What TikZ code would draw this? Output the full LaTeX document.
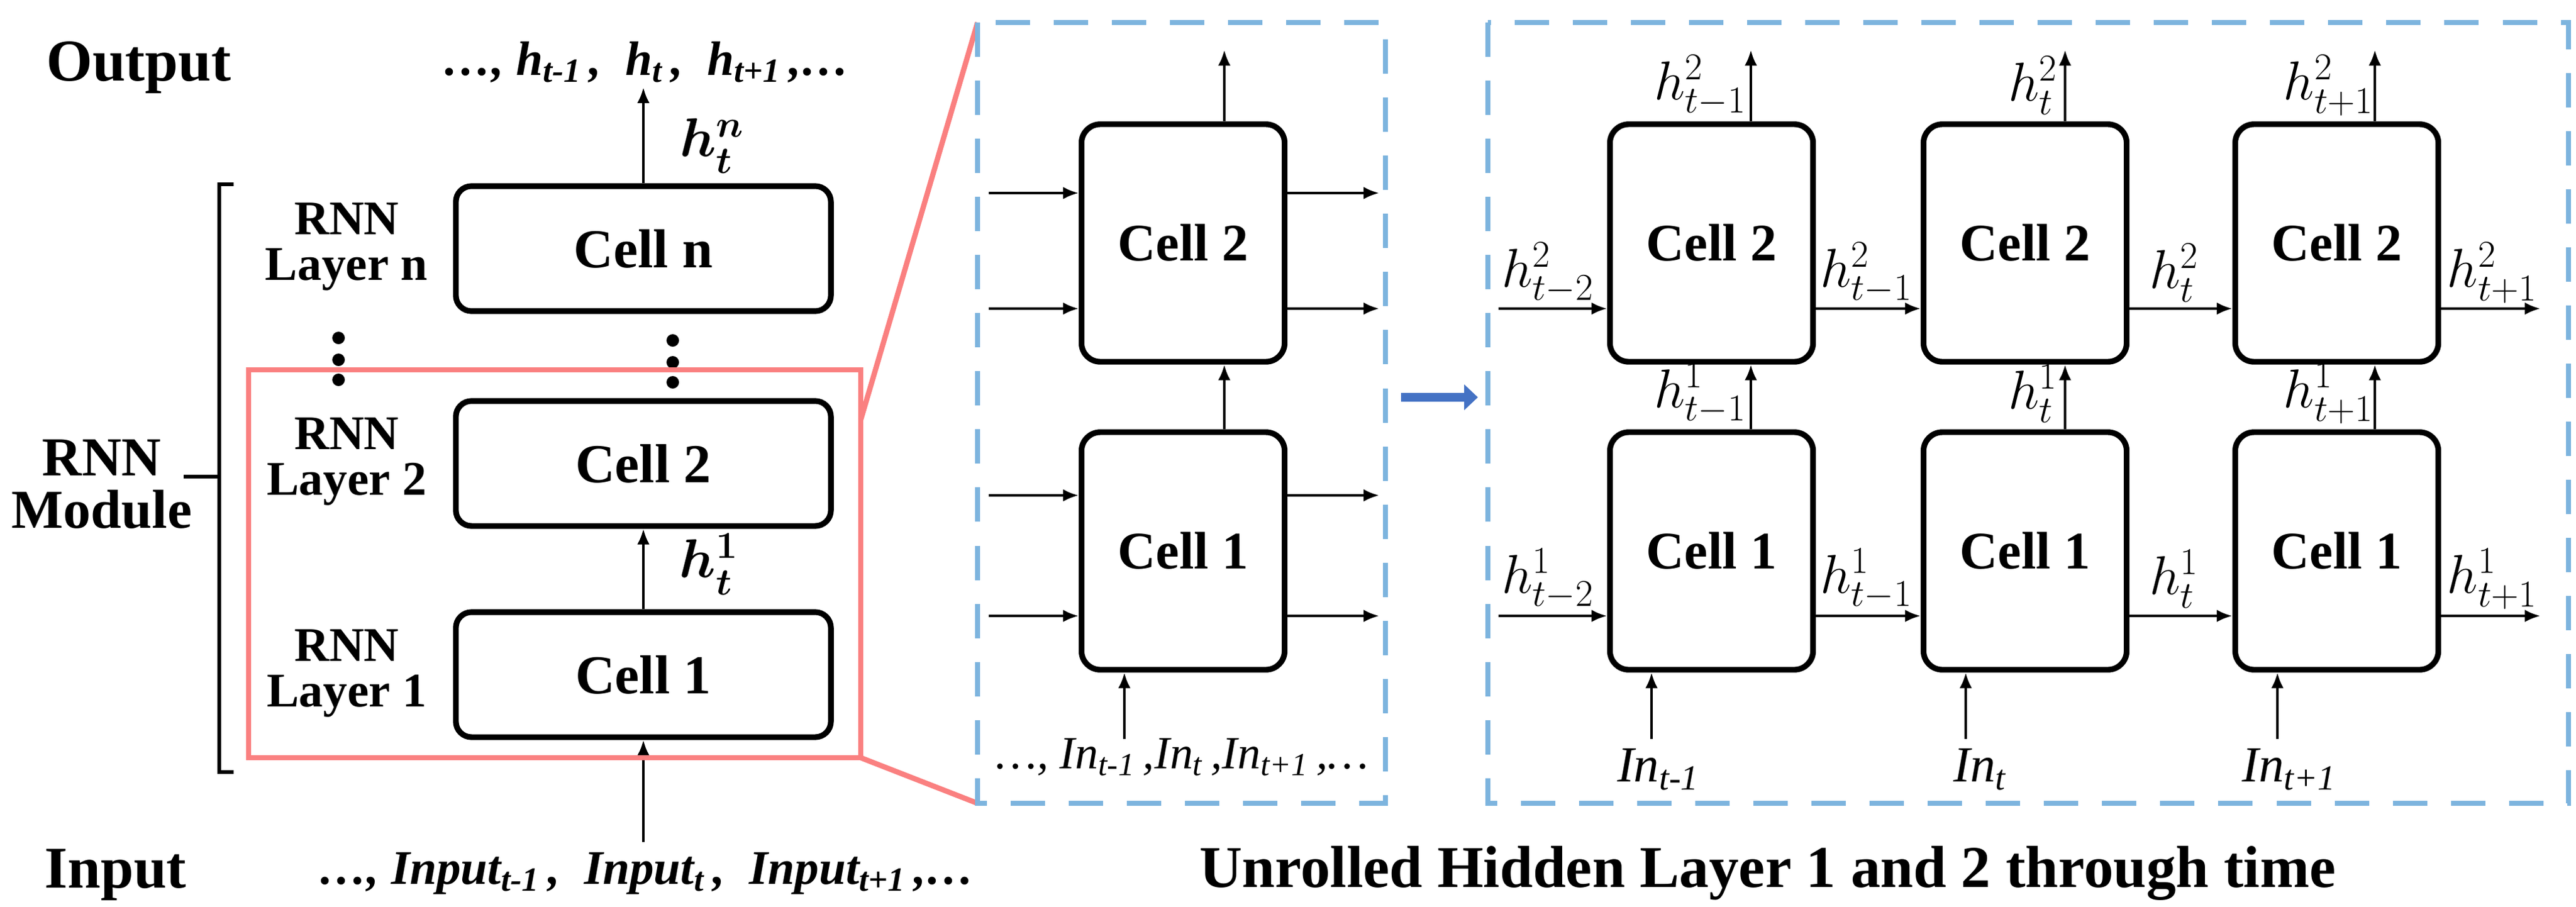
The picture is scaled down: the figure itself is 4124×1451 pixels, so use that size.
\documentclass[tikz,border=0pt]{standalone}
\usepackage{amsmath}
\usepackage{fontspec}
\setmainfont{Liberation Serif}
\usetikzlibrary{arrows.meta}
\definecolor{pinkred}{RGB}{250,128,128}
\definecolor{dashblue}{RGB}{125,180,222}
\definecolor{arrblue}{RGB}{68,114,196}
\begin{document}
\begin{tikzpicture}[x=0.01cm,y=-0.01cm,
    bigcell/.style={draw, line width=2.6pt, rounded corners=0.25cm, minimum width=6cm, minimum height=2cm, font=\fontsize{25}{27}\selectfont\bfseries},
    ucell/.style={draw, line width=2.6pt, rounded corners=0.3cm, minimum width=3.25cm, minimum height=3.8cm, font=\fontsize{24}{26}\selectfont\bfseries},
    arr/.style={-{Latex[length=0.25cm,width=0.2cm]}, line width=1.2pt},
    lbl/.style={font=\fontsize{22}{24}\selectfont\bfseries, align=center},
    hl/.style={font=\fontsize{26}{28}\selectfont, inner sep=1pt},
    dbox/.style={draw=dashblue, line width=2.4pt, dash pattern=on 0.55cm off 0.38cm}
]
\useasboundingbox (0,0) rectangle (4124,1451);

% ---- left panel
\node[font=\fontsize{27}{29}\selectfont\bfseries] (out) at (222,108) {Output};
\node[font=\fontsize{27}{29}\selectfont\bfseries] (inp) at (185,1400) {Input};
\node[font=\fontsize{22}{24}\selectfont\bfseries\itshape] (outseq) at (1035,100)
  {…, h\textsubscript{t-1}\,,\ \ h\textsubscript{t}\,,\ \ h\textsubscript{t+1}\,,…};
\node[font=\fontsize{22}{24}\selectfont\bfseries\itshape] (inseq) at (1035,1398)
  {…, Input\textsubscript{t-1}\,,\ \ Input\textsubscript{t}\,,\ \ Input\textsubscript{t+1}\,,…};

\node[bigcell] (cn) at (1030,398) {Cell n};
\node[bigcell] (c2) at (1030,742) {Cell 2};
\node[bigcell] (c1) at (1030,1080) {Cell 1};

\node[lbl] (ln) at (555,395) {RNN\\[-3pt]Layer n};
\node[lbl] (l2) at (555,739) {RNN\\[-3pt]Layer 2};
\node[lbl] (l1) at (555,1078) {RNN\\[-3pt]Layer 1};
\node[lbl, font=\fontsize{25}{27}\selectfont\bfseries] (mod) at (163,775) {RNN\\[-3pt]Module};

\coordinate (otop) at (1030,140);
\coordinate (ibot) at (1030,1348);
\draw[arr] (cn.north) -- (otop);
\draw[arr] (c1.north) -- (c2.south);
\draw[arr] (ibot) -- (c1.south);
\node[font=\fontsize{26}{28}\selectfont] (hn) at (1140,234) {$\boldsymbol{h_t^n}$};
\node[font=\fontsize{26}{28}\selectfont] (h1) at (1135,903) {$\boldsymbol{h_t^1}$};

\foreach \y in {541,576,608} {\fill (542,\y) circle (0.1cm); \fill (1077,\y+4) circle (0.1cm);}

% bracket
\draw[line width=1.8pt] (374,295) -- (351,295) -- (351,1236) -- (374,1236);
\draw[line width=1.8pt] (294,763) -- (351,763);

% pink highlight
\draw[pinkred, line width=2.4pt] (398,592) rectangle (1378,1213);
\draw[pinkred, line width=2.4pt] (1378,672) -- (1565,36);
\draw[pinkred, line width=2.4pt] (1378,1213) -- (1565,1286);

% ---- middle panel
\draw[dbox] (1565,36) rectangle (2218,1286);
\node[ucell] (m2) at (1894,389) {Cell 2};
\node[ucell] (m1) at (1894,882) {Cell 1};
\foreach \y/\n in {309/a,494/b,793/c,986/d} {
  \coordinate (mi\n) at (1583,\y);
  \coordinate (mo\n) at (2208,\y);
}
\draw[arr] (mia) -- (mia -| m2.west);
\draw[arr] (mib) -- (mib -| m2.west);
\draw[arr] (mic) -- (mic -| m1.west);
\draw[arr] (mid) -- (mid -| m1.west);
\draw[arr] (moa -| m2.east) -- (moa);
\draw[arr] (mob -| m2.east) -- (mob);
\draw[arr] (moc -| m1.east) -- (moc);
\draw[arr] (mod -| m1.east) -- (mod);
\coordinate (mtop) at (1960,80);
\draw[arr] (mtop |- m2.north) -- (mtop);
\draw[arr] (mtop |- m1.north) -- (mtop |- m2.south);
\coordinate (mbot) at (1800,1183);
\draw[arr] (mbot) -- (mbot |- m1.south);
\node[font=\fontsize{21}{23}\selectfont\itshape] (mseq) at (1893,1212)
  {…, In\textsubscript{t-1}\,,In\textsubscript{t}\,,In\textsubscript{t+1}\,,…};

% blue arrow
\coordinate (ba) at (2243,636);
\coordinate (bb) at (2366,636);
\draw[arrblue, line width=4pt, -{Triangle[length=0.22cm,width=0.4cm]}] (ba) -- (bb);

% ---- right panel
\draw[dbox] (2382,36) rectangle (4112,1286);
\foreach \x/\k in {2740/a,3242/b,3741/c} {
  \node[ucell] (u2\k) at (\x,389) {Cell 2};
  \node[ucell] (u1\k) at (\x,882) {Cell 1};
}
\coordinate (ina) at (2399,494);
\coordinate (inb) at (2399,986);
\coordinate (outa) at (4067,494);
\coordinate (outb) at (4067,986);
\draw[arr] (ina) -- (ina -| u2a.west);
\draw[arr] (inb) -- (inb -| u1a.west);
\draw[arr] (ina -| u2a.east) -- (ina -| u2b.west);
\draw[arr] (inb -| u1a.east) -- (inb -| u1b.west);
\draw[arr] (ina -| u2b.east) -- (ina -| u2c.west);
\draw[arr] (inb -| u1b.east) -- (inb -| u1c.west);
\draw[arr] (ina -| u2c.east) -- (outa);
\draw[arr] (inb -| u1c.east) -- (outb);

\foreach \k/\x/\ix in {a/2803/2644,b/3306/3147,c/3802/3646} {
  \coordinate (t\k) at (\x,80);
  \draw[arr] (t\k |- u2\k.north) -- (t\k);
  \draw[arr] (t\k |- u1\k.north) -- (t\k |- u2\k.south);
  \coordinate (b\k) at (\ix,1183);
  \draw[arr] (b\k) -- (b\k |- u1\k.south);
}
% labels
\node[hl] (r2a) at (2478,437) {$h^2_{t-2}$};
\node[hl] (r2b) at (2988,437) {$h^2_{t-1}$};
\node[hl] (r2c) at (3481,437) {$h^2_{t}$};
\node[hl] (r2d) at (3990,437) {$h^2_{t+1}$};
\node[hl] (r1a) at (2478,927) {$h^1_{t-2}$};
\node[hl] (r1b) at (2988,927) {$h^1_{t-1}$};
\node[hl] (r1c) at (3481,927) {$h^1_{t}$};
\node[hl] (r1d) at (3990,927) {$h^1_{t+1}$};
\node[hl] (v2a) at (2722,137) {$h^2_{t-1}$};
\node[hl] (v2b) at (3255,137) {$h^2_{t}$};
\node[hl] (v2c) at (3728,137) {$h^2_{t+1}$};
\node[hl] (v1a) at (2722,630) {$h^1_{t-1}$};
\node[hl] (v1b) at (3255,630) {$h^1_{t}$};
\node[hl] (v1c) at (3728,630) {$h^1_{t+1}$};
\node[font=\fontsize{23}{25}\selectfont\itshape] (ia) at (2655,1232) {In\textsubscript{t-1}};
\node[font=\fontsize{23}{25}\selectfont\itshape] (ib) at (3170,1232) {In\textsubscript{t}};
\node[font=\fontsize{23}{25}\selectfont\itshape] (ic) at (3665,1232) {In\textsubscript{t+1}};

\node[font=\fontsize{27}{29}\selectfont\bfseries] (cap) at (2830,1398) {Unrolled Hidden Layer 1 and 2 through time};
\end{tikzpicture}
\end{document}
